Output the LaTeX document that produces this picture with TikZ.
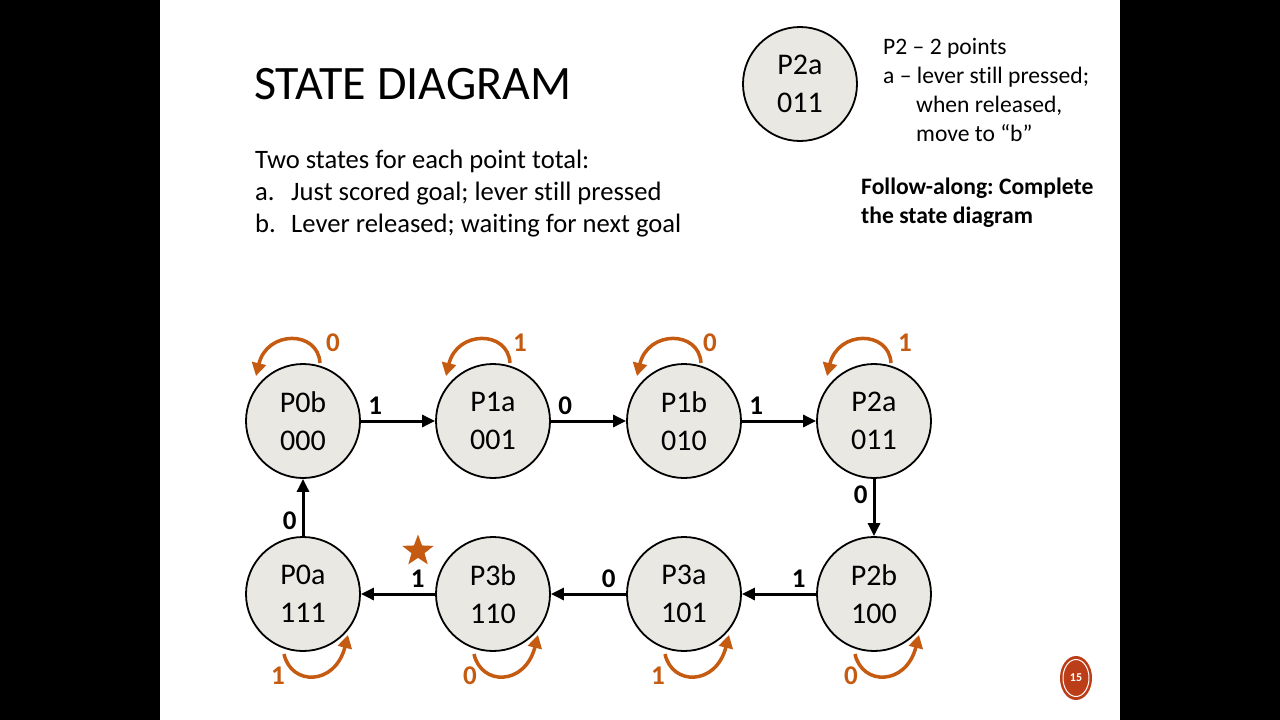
\documentclass[tikz,border=0pt]{standalone}
\usepackage{fontspec}
\setmainfont{Carlito}[Ligatures={NoCommon,NoRare,NoDiscretionary}]
\usetikzlibrary{arrows.meta,shapes.geometric,calc}
\definecolor{org}{RGB}{197,90,17}
\definecolor{sfill}{RGB}{234,232,227}
\definecolor{badge}{RGB}{188,62,24}
\frenchspacing
\begin{document}
\begin{tikzpicture}[x=1pt,y=-1pt,
  state/.style={circle,draw=black,line width=1.8pt,fill=sfill,minimum size=114pt,inner sep=0pt,
    align=center,font=\fontsize{30}{38}\selectfont},
  trans/.style={line width=3pt,-{Triangle[length=13pt,width=12pt]}},
  oloop/.style={org,line width=3.5pt,-{Triangle[length=13pt,width=14pt]}},
  tlab/.style={font=\fontsize{27}{27}\selectfont\bfseries,inner sep=0pt},
  olab/.style={tlab,text=org},
  body/.style={anchor=base west,inner sep=0pt,font=\fontsize{26.6}{32}\selectfont},
  side/.style={anchor=base west,inner sep=0pt,font=\fontsize{23.6}{29}\selectfont}]
\useasboundingbox (0,0) rectangle (1280,720);
\fill[black] (0,0) rectangle (1280,720);
\fill[white] (160,0) rectangle (1120,720);

% title and text
\node[anchor=base west,inner sep=0pt,font=\fontsize{48}{52}\selectfont] (title) at (254,99) {STATE DIAGRAM};
\node[body] (t1) at (255,168) {Two states for each point total:};
\node[body] (t2a) at (255,200) {a.};
\node[body] (t2) at (291,200) {Just scored goal; lever still pressed};
\node[body] (t3a) at (255,232) {b.};
\node[body] (t3) at (291,232) {Lever released; waiting for next goal};

% legend
\node[state] (leg) at (800,84) {P2a\\011};
\node[side] (s1) at (883,54.5) {P2 -- 2 points};
\node[side] (s2) at (883,83.5) {a -- lever still pressed;};
\node[side] (s3) at (916,112.5) {when released,};
\node[side] (s4) at (916,141.5) {move to “b”};
\node[side,font=\fontsize{23.6}{29}\selectfont\bfseries] (f1) at (861,194.5) {Follow-along: Complete};
\node[side,font=\fontsize{23.6}{29}\selectfont\bfseries] (f2) at (861,223.5) {the state diagram};

% states
\node[state] (P0b) at (303,421) {P0b\\000};
\node[state] (P1a) at (493,421) {P1a\\001};
\node[state] (P1b) at (684,421) {P1b\\010};
\node[state] (P2a) at (874,421) {P2a\\011};
\node[state] (P0a) at (303,594) {P0a\\111};
\node[state] (P3b) at (493,594) {P3b\\110};
\node[state] (P3a) at (684,594) {P3a\\101};
\node[state] (P2b) at (874,594) {P2b\\100};

% transitions
\draw[trans] (P0b.east) -- (P1a.west) node[tlab,pos=0,anchor=south west,xshift=6pt,yshift=5pt] {1};
\draw[trans] (P1a.east) -- (P1b.west) node[tlab,pos=0,anchor=south west,xshift=6pt,yshift=5pt] {0};
\draw[trans] (P1b.east) -- (P2a.west) node[tlab,pos=0,anchor=south west,xshift=6pt,yshift=5pt] {1};
\draw[trans] (P2a.south) -- (P2b.north) node[tlab,pos=0,anchor=north east,xshift=-5pt,yshift=-5pt] {0};
\draw[trans] (P2b.west) -- (P3a.east) node[tlab,pos=0,anchor=south east,xshift=-9pt,yshift=5pt] {1};
\draw[trans] (P3a.west) -- (P3b.east) node[tlab,pos=0,anchor=south east,xshift=-9pt,yshift=5pt] {0};
\draw[trans] (P3b.west) -- (P0a.east) node[tlab,pos=0,anchor=south east,xshift=-9pt,yshift=5pt] {1};
\draw[trans] (P0a.north) -- (P0b.south) node[tlab,pos=0,anchor=south east,xshift=-5pt,yshift=5pt] {0};

% self loops (top)
\foreach \n/\l/\dx in {P0b/0/30,P1a/1/27,P1b/0/26,P2a/1/31}{
  \draw[oloop] ($(\n)+(17,-58)$) .. controls ($(\n)+(15,-91)$) and ($(\n)+(-36,-91)$) .. ($(\n)+(-47,-45)$);
  \node[olab] (lt\n) at ($(\n)+(\dx,-78)$) {\l};
}
% self loops (bottom)
\foreach \n/\l/\dx in {P0a/1/-25,P3b/0/-23,P3a/1/-26,P2b/0/-23}{
  \draw[oloop] ($(\n)+(-19,60)$) .. controls ($(\n)+(-12,92)$) and ($(\n)+(32,92)$) .. ($(\n)+(45,41)$);
  \node[olab] (lb\n) at ($(\n)+(\dx,82)$) {\l};
}

% star
\node[star,star points=5,star point ratio=2.4,fill=org,minimum size=33pt,inner sep=0pt] (star) at (418,551) {};

% page badge
\node[ellipse,fill=badge,minimum width=32pt,minimum height=44pt,inner sep=0pt] (pg) at (1076,678) {};
\node[ellipse,draw=white,line width=1pt,minimum width=26pt,minimum height=37pt,inner sep=0pt,
  text=white,font=\fontsize{12}{12}\selectfont\bfseries] (pgn) at (pg) {15};
\end{tikzpicture}
\end{document}
